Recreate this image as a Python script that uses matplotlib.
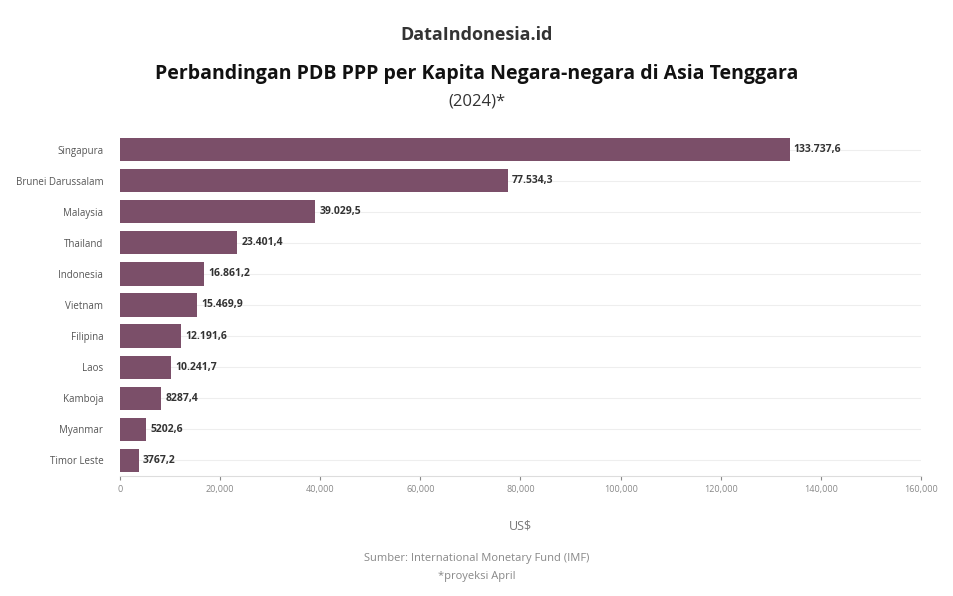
import matplotlib
matplotlib.use("Agg")
import matplotlib.pyplot as plt
from matplotlib.ticker import FuncFormatter

countries = ["Singapura", "Brunei Darussalam", "Malaysia", "Thailand", "Indonesia", "Vietnam",
             "Filipina", "Laos", "Kamboja", "Myanmar", "Timor Leste"]
values = [133737.6, 77534.3, 39029.5, 23401.4, 16861.2, 15469.9, 12191.6, 10241.7, 8287.4, 5202.6, 3767.2]
labels = ["133.737,6", "77.534,3", "39.029,5", "23.401,4", "16.861,2", "15.469,9",
          "12.191,6", "10.241,7", "8287,4", "5202,6", "3767,2"]

plt.rcParams['font.family'] = ['Open Sans', 'DejaVu Sans']
fig = plt.figure(figsize=(9.54, 5.96), dpi=100)
ax = fig.add_axes([120/954, 1-476/596, (921-120)/954, (476-134)/596])
y = list(range(len(countries)))
ax.barh(y, values, height=0.75, color="#7b4f69")
for yi, v, l in zip(y, values, labels):
    ax.text(v + 800, yi, l, va="center", ha="left", fontsize=7.5, fontweight="bold", color="#333333")
ax.set_yticks(y)
ax.set_yticklabels(countries, fontsize=7, color="#555555")
ax.set_ylim(len(countries) - 0.5, -0.5)
ax.set_xlim(0, 160000)
ax.set_xticks(range(0, 160001, 20000))
ax.xaxis.set_major_formatter(FuncFormatter(lambda x, p: f"{int(x):,}"))
ax.tick_params(axis="x", labelsize=6.5, colors="#888888", length=3)
ax.tick_params(axis="y", length=0, pad=12)
for s in ["top", "right", "left"]:
    ax.spines[s].set_visible(False)
ax.spines["bottom"].set_color("#dddddd")
for yi in y:
    ax.axhline(yi, color="#eeeeee", lw=0.8, zorder=0)
ax.set_xlabel("US$", fontsize=9, color="#777777", labelpad=18)

fig.text(0.5, 1-35/596, "DataIndonesia.id", ha="center", va="center", fontsize=13, fontweight="bold", color="#333333")
fig.text(0.5, 1-74/596, "Perbandingan PDB PPP per Kapita Negara-negara di Asia Tenggara",
         ha="center", va="center", fontsize=14, fontweight="bold", color="#111111")
fig.text(0.5, 1-101/596, "(2024)*", ha="center", va="center", fontsize=12, color="#333333")
fig.text(0.5, 1-559/596, "Sumber: International Monetary Fund (IMF)", ha="center", va="center", fontsize=8, color="#888888")
fig.text(0.5, 1-577/596, "*proyeksi April", ha="center", va="center", fontsize=8, color="#888888")
fig.savefig("out.png", dpi=100)
